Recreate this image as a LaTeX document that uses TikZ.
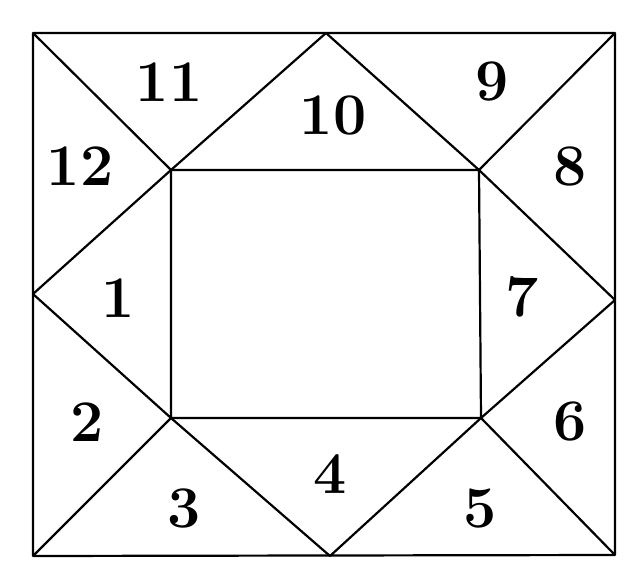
\documentclass[tikz,border=0pt]{standalone}
\begin{document}
\begin{tikzpicture}[x=1pt,y=-1pt,line width=2.2pt,line join=round,
    house/.style={font=\fontsize{59}{59}\selectfont\bfseries}]
      \useasboundingbox (0,0) rectangle (640,580);
      % outer frame, side midpoints and inner square
      \path
        (33,33) coordinate (otl)
        (615,33) coordinate (otr)
        (615,555) coordinate (obr)
        (33,556) coordinate (obl)
        (326,33) coordinate (mt)
        (615,300) coordinate (mr)
        (330,556) coordinate (mb)
        (33,294) coordinate (ml)
        (171,170) coordinate (itl)
        (479,170) coordinate (itr)
        (481,418) coordinate (ibr)
        (171,418) coordinate (ibl);
      \draw
        (169,82) node[house] (h11){11}
        (333,116) node[house] (h10){10}
        (492,82) node[house] (h9){9}
        (80,166) node[house] (h12){12}
        (570,167) node[house] (h8){8}
        (118,298) node[house] (h1){1}
        (522,297) node[house] (h7){7}
        (87,422) node[house] (h2){2}
        (570,422) node[house] (h6){6}
        (330,474) node[house] (h4){4}
        (184,508) node[house] (h3){3}
        (480,508) node[house] (h5){5};
      \begin{scope}[-]
        \draw (otl) -- (otr) -- (obr) -- (obl) -- cycle;
        \draw (itl) -- (itr) -- (ibr) -- (ibl) -- cycle;
        \draw (otl) to (itl);
        \draw (otr) to (itr);
        \draw (obr) to (ibr);
        \draw (obl) to (ibl);
        \draw (mt) to (itl);
        \draw (itl) to (ml);
        \draw (ml) to (ibl);
        \draw (ibl) to (mb);
        \draw (mb) to (ibr);
        \draw (ibr) to (mr);
        \draw (mr) to (itr);
        \draw (itr) to (mt);
      \end{scope}
    \end{tikzpicture}
\end{document}
